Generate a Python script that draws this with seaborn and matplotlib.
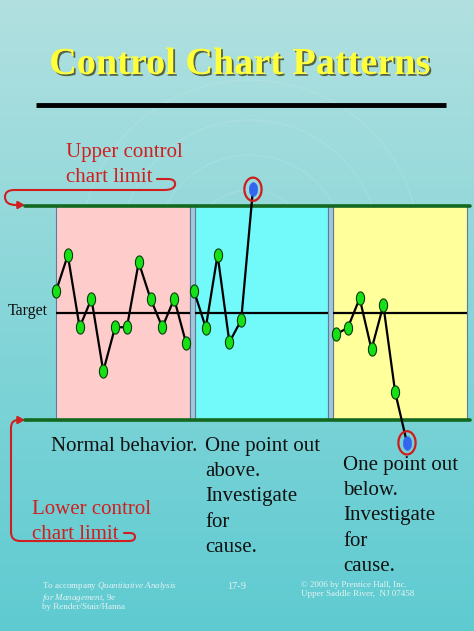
import numpy as np
import pandas as pd
import matplotlib
matplotlib.use("Agg")
import matplotlib.pyplot as plt
import seaborn as sns
import matplotlib.patheffects as pe
from matplotlib.path import Path
from matplotlib.patches import FancyArrowPatch, Rectangle
from matplotlib.colors import LinearSegmentedColormap

# control limits (sigma units)
TARGET = 0.0
UCL = 3.0
LCL = -3.0

# sample values
normal_vals = [0.61, 1.62, -0.40, 0.40, -1.63, -0.40, -0.40, 1.42, 0.40, -0.40, 0.40, -0.83]
above_vals = [0.62, -0.41, 1.63, -0.82, -0.20, 3.47]
below_vals = [-0.60, -0.41, 0.41, -1.02, 0.22, -2.22, -3.64]

panel_colors = ["#ffcccc", "#72fafa", "#ffff9c"]
panel_notes = [
    ["Normal behavior."],
    ["One point out", "above.", "Investigate", "for", "cause."],
    ["One point out", "below.", "Investigate", "for", "cause."],
]

W, H = 474, 631
sns.set_style("white")
plt.rcParams["font.family"] = ["Liberation Serif", "DejaVu Serif"]
plt.rcParams["mathtext.fontset"] = "custom"
plt.rcParams["mathtext.rm"] = "Liberation Serif"
plt.rcParams["mathtext.it"] = "Liberation Serif:italic"

fig = plt.figure(figsize=(W / 100, H / 100), dpi=100)


def frac(x0, y0, x1, y1):
    # pixel box -> figure fraction rect
    return [x0 / W, 1 - y1 / H, (x1 - x0) / W, (y1 - y0) / H]


# background in pixel coordinates
bg = fig.add_axes([0, 0, 1, 1], zorder=0)
bg.set_xlim(0, W)
bg.set_ylim(H, 0)
bg.axis("off")
grad = np.linspace(0, 1, 256).reshape(-1, 1)
cmap = LinearSegmentedColormap.from_list("bg", ["#b2e0e0", "#95d9db", "#78d2d6", "#5ecbd1"])
bg.imshow(grad, cmap=cmap, extent=[0, W, H, 0], aspect="auto", zorder=0)
for r in [60, 95, 130, 170]:
    bg.add_patch(plt.Circle((250, 250), r, fill=False, ec="white", lw=0.8, alpha=0.12, zorder=0.5))

# title + rule
bg.text(240, 74, "Control Chart Patterns", ha="center", va="baseline", fontsize=27.5,
        fontweight="bold", color="#ffff3a",
        path_effects=[pe.SimplePatchShadow(offset=(1.3, -1.3), shadow_rgbFace="#3a3a10", alpha=0.75),
                      pe.Normal()])
bg.plot([36, 446], [105, 105], color="black", lw=3.5, solid_capstyle="butt")

# panel backgrounds
panel_px = [(56, 190), (195, 328), (333, 467)]
for (x0, x1), c in zip(panel_px, panel_colors):
    bg.add_patch(Rectangle((x0, 206), x1 - x0, 214, fc=c, ec="#5b7d99", lw=0.8, zorder=1))
for x0, x1 in [(190, 195), (328, 333)]:
    bg.add_patch(Rectangle((x0, 206), x1 - x0, 214, fc="#a3c6d8", ec="#5b7d99", lw=0.8, zorder=1))

# limit lines
lim_ax = fig.add_axes(frac(25, 206, 470, 420), zorder=1)
lim_ax.set_xlim(0, 1)
lim_ax.set_ylim(LCL, UCL)
lim_ax.axis("off")
for v in [UCL, LCL]:
    lim_ax.axhline(v, color="#12691f", lw=2.6, clip_on=False)

# ellipse marker
t = np.linspace(0, 2 * np.pi, 60)
ell = Path(np.column_stack([0.62 * np.cos(t), np.sin(t)]))
ring = Path(np.column_stack([0.74 * np.cos(t), np.sin(t)]))

series = [normal_vals, above_vals, below_vals]
xlims = [(1.0, 12.34), (1.085, 12.36), (0.746, 12.07)]
for (x0, x1), vals, xl in zip(panel_px, series, xlims):
    ax = fig.add_axes(frac(x0, 206, x1, 420), zorder=2)
    ax.set_xlim(*xl)
    ax.set_ylim(LCL, UCL)
    ax.axis("off")
    df = pd.DataFrame({"sample": np.arange(1, len(vals) + 1), "value": vals})
    df["out"] = (df["value"] > UCL) | (df["value"] < LCL)
    ax.axhline(TARGET, color="black", lw=1.6, zorder=1)
    sns.lineplot(data=df, x="sample", y="value", ax=ax, color="black", lw=1.6,
                 clip_on=False, zorder=2)
    sns.scatterplot(data=df[~df["out"]], x="sample", y="value", ax=ax, marker=ell, s=90,
                    color="#16e016", edgecolor="#0b3b0b", linewidth=0.8, clip_on=False,
                    zorder=3, legend=False)
    out = df[df["out"]]
    if len(out):
        sns.scatterplot(data=out, x="sample", y="value", ax=ax, marker=ell, s=100,
                        color="#3366ee", edgecolor="#3366ee", linewidth=0.3, clip_on=False,
                        zorder=3, legend=False)
        sns.scatterplot(data=out, x="sample", y="value", ax=ax, marker=ring, s=280,
                        facecolor="none", edgecolor="#d01c1c", linewidth=1.6, clip_on=False,
                        zorder=4, legend=False)
    ax.set_xlabel("")
    ax.set_ylabel("")

# labels
red = "#cf1f1f"
bg.text(8, 315, "Target", fontsize=11.5, va="baseline", color="#111111")
for i, s in enumerate(["Upper control", "chart limit"]):
    bg.text(66, 156.5 + 25 * i, s, fontsize=15, va="baseline", color=red)
for i, s in enumerate(["Lower control", "chart limit"]):
    bg.text(32, 514 + 25 * i, s, fontsize=15, va="baseline", color=red)

upper = Path([(157, 179), (168, 179), (176, 179), (175, 185), (174, 190), (164, 190),
              (14, 190), (5, 190), (5, 197), (5, 205), (16, 205), (25, 205)],
             [Path.MOVETO, Path.LINETO, Path.CURVE3, Path.CURVE3, Path.CURVE3, Path.CURVE3,
              Path.LINETO, Path.CURVE3, Path.CURVE3, Path.CURVE3, Path.CURVE3, Path.LINETO])
lower = Path([(124, 533), (130, 533), (135, 533), (135, 537), (135, 541), (129, 541),
              (20, 541), (11, 541), (11, 532), (11, 428), (11, 420), (18, 420), (25, 420)],
             [Path.MOVETO, Path.LINETO, Path.CURVE3, Path.CURVE3, Path.CURVE3, Path.CURVE3,
              Path.LINETO, Path.CURVE3, Path.CURVE3, Path.LINETO, Path.CURVE3, Path.CURVE3,
              Path.LINETO])
for p in [upper, lower]:
    bg.add_patch(FancyArrowPatch(path=p, arrowstyle="-|>,head_length=4,head_width=2.2",
                                 color=red, lw=1.5, zorder=3))

note_pos = [(51, 451), (205, 451), (343, 470)]
for (x, y), lines in zip(note_pos, panel_notes):
    for i, s in enumerate(lines):
        bg.text(x, y + 25.2 * i, s, fontsize=15, va="baseline", color="#111111")

# footer
foot = "#e4f3f3"
bg.text(42, 580, "To accompany $\\mathit{Quantitative\\ Analysis}$\n"
        "$\\mathit{for\\ Management}$, 9e\nby Render/Stair/Hanna",
        fontsize=6.5, color=foot, va="top", linespacing=0.95)
bg.text(236.5, 589, "17-9", fontsize=7.5, color=foot, va="baseline", ha="center")
bg.text(301, 581, "© 2006 by Prentice Hall, Inc.\nUpper Saddle River,  NJ 07458",
        fontsize=6.5, color=foot, va="top", linespacing=1.2)

fig.savefig("out.png", dpi=100)
